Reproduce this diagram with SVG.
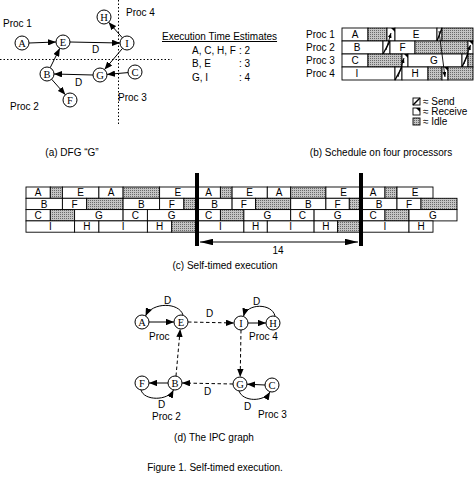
<svg xmlns="http://www.w3.org/2000/svg" width="474" height="478" viewBox="0 0 474 478">
<style>
.t{font-family:"Liberation Sans",Arial,sans-serif;font-size:10px;fill:#000}
.c{text-anchor:middle}
.nd circle{fill:#fff;stroke:#000;stroke-width:1}
.nd text{font-family:"Liberation Serif","Times New Roman",serif;font-size:10.5px;text-anchor:middle;fill:#000}
.e{stroke:#000;stroke-width:1;fill:none;marker-end:url(#ah)}
.dash{stroke-dasharray:3.5 2.5}
.dot{stroke:#000;stroke-width:1;stroke-dasharray:1.5 2;fill:none}
.cell{fill:#fff;stroke:#000;stroke-width:0.9}
.idle{fill:url(#stip);stroke:#000;stroke-width:0.9}
.cl{font-family:"Liberation Sans",Arial,sans-serif;font-size:10px;text-anchor:middle;fill:#000}
.snd{stroke:#000;stroke-width:1.4}
.bar{fill:#000}
</style>
<defs>
<pattern id="stip" width="2" height="2" patternUnits="userSpaceOnUse"><rect width="2" height="2" fill="#c4c4c4"/><rect width="1" height="1" fill="#6a6a6a"/></pattern>
<marker id="ah" viewBox="0 0 10 8" refX="10" refY="4" markerWidth="8" markerHeight="6.4" markerUnits="userSpaceOnUse" orient="auto"><path d="M0,0 L10,4 L0,8 z" fill="#000"/></marker>
<marker id="sm" viewBox="0 0 10 8" refX="10" refY="4" markerWidth="5" markerHeight="4" markerUnits="userSpaceOnUse" orient="auto"><path d="M0,0 L10,4 L0,8 z" fill="#000"/></marker>
<marker id="big" viewBox="0 0 12 6" refX="12" refY="3" markerWidth="13" markerHeight="6.5" markerUnits="userSpaceOnUse" orient="auto"><path d="M0,0 L12,3 L0,6 z" fill="#000"/></marker>
</defs>
<rect width="474" height="478" fill="#fff"/>

<!-- (a) DFG -->
<g id="a-partition">
<line class="dot" x1="0" y1="59.5" x2="172" y2="59.5"/>
<line class="dot" x1="118.5" y1="0" x2="118.5" y2="126"/>
<text class="t" x="3" y="27">Proc 1</text>
<text class="t" x="126" y="16">Proc 4</text>
<text class="t" x="118" y="101">Proc 3</text>
<text class="t" x="10" y="110">Proc 2</text>
</g>
<g id="a-edges">
<line class="e" x1="29" y1="43" x2="56" y2="42"/>
<line class="e" x1="70" y1="42" x2="120" y2="43"/>
<line class="e" x1="122.4" y1="37.8" x2="108.6" y2="22.2"/>
<line class="e" x1="122.5" y1="48.4" x2="104.5" y2="69.6"/>
<line class="e" x1="128" y1="72.6" x2="107" y2="74.4"/>
<line class="e" x1="93" y1="75" x2="54" y2="74"/>
<line class="e" x1="50.2" y1="67.7" x2="59.8" y2="48.3"/>
<line class="e" x1="51.6" y1="79.2" x2="65.4" y2="94.8"/>
<text class="t" x="92" y="53">D</text>
<text class="t" x="75" y="86">D</text>
</g>
<g id="a-A" class="nd"><circle cx="22" cy="43" r="7"/><text x="22" y="46.7">A</text></g>
<g id="a-E" class="nd"><circle cx="63" cy="42" r="7"/><text x="63" y="45.7">E</text></g>
<g id="a-I" class="nd"><circle cx="127" cy="43" r="7"/><text x="127" y="46.7">I</text></g>
<g id="a-H" class="nd"><circle cx="104" cy="17" r="7"/><text x="104" y="20.7">H</text></g>
<g id="a-G" class="nd"><circle cx="100" cy="75" r="7"/><text x="100" y="78.7">G</text></g>
<g id="a-C" class="nd"><circle cx="135" cy="72" r="7"/><text x="135" y="75.7">C</text></g>
<g id="a-B" class="nd"><circle cx="47" cy="74" r="7"/><text x="47" y="77.7">B</text></g>
<g id="a-F" class="nd"><circle cx="70" cy="100" r="7"/><text x="70" y="103.7">F</text></g>
<g id="a-estimates">
<text class="t" x="162" y="40" text-decoration="underline">Execution Time Estimates</text>
<text class="t" x="192" y="54">A, C, H, F</text><text class="t" x="239" y="54">: 2</text>
<text class="t" x="192" y="67">B, E</text><text class="t" x="239" y="67">: 3</text>
<text class="t" x="192" y="81">G, I</text><text class="t" x="239" y="81">: 4</text>
</g>
<text class="t c" x="72" y="156">(a) DFG “G”</text>

<!-- (b) schedule -->
<g id="b-schedule">
<text class="t" x="306" y="38">Proc 1</text>
<text class="t" x="306" y="51">Proc 2</text>
<text class="t" x="306" y="64">Proc 3</text>
<text class="t" x="306" y="77">Proc 4</text>
<rect class="cell" x="342" y="28" width="26" height="13"/><text class="cl" x="355" y="38">A</text>
<rect class="idle" x="368" y="28" width="19" height="13"/>
<rect class="cell" x="387" y="28" width="8" height="13"/><path d="M391,28 L395,28 L395,32 z" fill="#000"/>
<rect class="cell" x="395" y="28" width="42" height="13"/><text class="cl" x="416" y="38">E</text>
<rect class="cell" x="437" y="28" width="5" height="13"/><line class="snd" x1="437" y1="41" x2="442" y2="28"/>
<rect class="idle" x="442" y="28" width="31" height="13"/>
<rect class="cell" x="342" y="41" width="41" height="13"/><text class="cl" x="357" y="51">B</text>
<rect class="cell" x="383" y="41" width="7" height="13"/><line class="snd" x1="383" y1="54" x2="390" y2="41"/>
<rect class="cell" x="390" y="41" width="25" height="13"/><text class="cl" x="402.5" y="51">F</text>
<rect class="idle" x="415" y="41" width="53" height="13"/>
<rect class="cell" x="468" y="41" width="5" height="13"/><path d="M469,41 L473,41 L473,45 z" fill="#000"/>
<rect class="cell" x="342" y="54" width="26" height="13"/><text class="cl" x="355" y="64">C</text>
<rect class="idle" x="368" y="54" width="34" height="13"/>
<rect class="cell" x="402" y="54" width="6" height="13"/><path d="M404,54 L408,54 L408,58 z" fill="#000"/>
<rect class="cell" x="408" y="54" width="54" height="13"/><text class="cl" x="434" y="64">G</text>
<rect class="cell" x="462" y="54" width="6" height="13"/><line class="snd" x1="462" y1="67" x2="468" y2="54"/>
<rect class="idle" x="468" y="54" width="5" height="13"/>
<rect class="cell" x="342" y="67" width="53" height="13"/><text class="cl" x="357" y="77">I</text>
<rect class="cell" x="395" y="67" width="7" height="13"/><line class="snd" x1="395" y1="80" x2="402" y2="67"/>
<rect class="cell" x="402" y="67" width="26" height="13"/><text class="cl" x="415" y="77">H</text>
<rect class="idle" x="428" y="67" width="14" height="13"/>
<rect class="cell" x="442" y="67" width="6" height="13"/><path d="M444,67 L448,67 L448,71 z" fill="#000"/>
<rect class="idle" x="448" y="67" width="25" height="13"/>
</g>
<g id="b-messages">
<line stroke="#000" stroke-width="0.9" x1="386" y1="50" x2="391" y2="33" marker-end="url(#sm)"/>
<line stroke="#000" stroke-width="0.9" x1="439" y1="31" x2="445" y2="77" marker-end="url(#sm)"/>
<line stroke="#000" stroke-width="0.9" x1="398" y1="77" x2="404" y2="58" marker-end="url(#sm)"/>
<line stroke="#000" stroke-width="0.9" x1="464" y1="64" x2="470.5" y2="45" marker-end="url(#sm)"/>
</g>
<g id="b-legend">
<rect class="cell" x="413" y="98" width="7" height="7"/><line class="snd" x1="413" y1="105" x2="420" y2="98"/>
<text class="t" x="423" y="104.5" font-size="9.5">≈ Send</text>
<rect class="cell" x="413" y="108" width="7" height="7"/><path d="M416,108 L420,108 L420,112 z" fill="#000"/>
<text class="t" x="423" y="114.5" font-size="9.5">≈ Receive</text>
<rect class="idle" x="413" y="118" width="7" height="7"/>
<text class="t" x="423" y="124.5" font-size="9.5">≈ Idle</text>
</g>
<text class="t c" x="381" y="156">(b) Schedule on four processors</text>

<!-- (c) self-timed execution -->
<g id="c-exec">
<rect class="cell" x="26" y="187" width="24.3" height="11.3"/><text class="cl" x="38.2" y="196.3">A</text>
<rect class="idle" x="50.3" y="187" width="12.1" height="11.3"/>
<rect class="cell" x="62.4" y="187" width="36.5" height="11.3"/><text class="cl" x="80.6" y="196.3">E</text>
<rect class="cell" x="98.9" y="187" width="24.2" height="11.3"/><text class="cl" x="111" y="196.3">A</text>
<rect class="idle" x="123.1" y="187" width="36.5" height="11.3"/>
<rect class="cell" x="159.6" y="187" width="36.4" height="11.3"/><text class="cl" x="177.8" y="196.3">E</text>
<rect class="cell" x="26" y="198.3" width="36.4" height="11.3"/><text class="cl" x="44.2" y="207.6">B</text>
<rect class="cell" x="62.4" y="198.3" width="24.3" height="11.3"/><text class="cl" x="74.6" y="207.6">F</text>
<rect class="idle" x="86.7" y="198.3" width="36.4" height="11.3"/>
<rect class="cell" x="123.1" y="198.3" width="36.5" height="11.3"/><text class="cl" x="141.4" y="207.6">B</text>
<rect class="cell" x="159.6" y="198.3" width="24.3" height="11.3"/><text class="cl" x="171.8" y="207.6">F</text>
<rect class="idle" x="183.9" y="198.3" width="12.1" height="11.3"/>
<rect class="cell" x="26" y="209.6" width="24.3" height="11.3"/><text class="cl" x="38.2" y="218.9">C</text>
<rect class="idle" x="50.3" y="209.6" width="24.3" height="11.3"/>
<rect class="cell" x="74.6" y="209.6" width="48.5" height="11.3"/><text class="cl" x="98.9" y="218.9">G</text>
<rect class="cell" x="123.1" y="209.6" width="24.3" height="11.3"/><text class="cl" x="135.3" y="218.9">C</text>
<rect class="cell" x="147.4" y="209.6" width="48.6" height="11.3"/><text class="cl" x="171.7" y="218.9">G</text>
<rect class="cell" x="26" y="220.9" width="48.6" height="11.3"/><text class="cl" x="50.3" y="230.2">I</text>
<rect class="cell" x="74.6" y="220.9" width="24.3" height="11.3"/><text class="cl" x="86.8" y="230.2">H</text>
<rect class="cell" x="98.9" y="220.9" width="48.5" height="11.3"/><text class="cl" x="123.2" y="230.2">I</text>
<rect class="cell" x="147.4" y="220.9" width="24.3" height="11.3"/><text class="cl" x="159.6" y="230.2">H</text>
<rect class="idle" x="171.7" y="220.9" width="24.3" height="11.3"/>

<rect class="cell" x="197" y="187" width="23.4" height="11.3"/><text class="cl" x="208.7" y="196.3">A</text>
<rect class="idle" x="220.4" y="187" width="11.7" height="11.3"/>
<rect class="cell" x="232.1" y="187" width="35.2" height="11.3"/><text class="cl" x="249.7" y="196.3">E</text>
<rect class="cell" x="267.3" y="187" width="23.4" height="11.3"/><text class="cl" x="279" y="196.3">A</text>
<rect class="idle" x="290.7" y="187" width="35.2" height="11.3"/>
<rect class="cell" x="325.9" y="187" width="35.1" height="11.3"/><text class="cl" x="343.5" y="196.3">E</text>
<rect class="cell" x="197" y="198.3" width="35.1" height="11.3"/><text class="cl" x="214.6" y="207.6">B</text>
<rect class="cell" x="232.1" y="198.3" width="23.5" height="11.3"/><text class="cl" x="243.8" y="207.6">F</text>
<rect class="idle" x="255.6" y="198.3" width="35.1" height="11.3"/>
<rect class="cell" x="290.7" y="198.3" width="35.2" height="11.3"/><text class="cl" x="308.3" y="207.6">B</text>
<rect class="cell" x="325.9" y="198.3" width="23.4" height="11.3"/><text class="cl" x="337.6" y="207.6">F</text>
<rect class="idle" x="349.3" y="198.3" width="11.7" height="11.3"/>
<rect class="cell" x="197" y="209.6" width="23.4" height="11.3"/><text class="cl" x="208.7" y="218.9">C</text>
<rect class="idle" x="220.4" y="209.6" width="23.5" height="11.3"/>
<rect class="cell" x="243.9" y="209.6" width="46.8" height="11.3"/><text class="cl" x="267.3" y="218.9">G</text>
<rect class="cell" x="290.7" y="209.6" width="23.4" height="11.3"/><text class="cl" x="302.4" y="218.9">C</text>
<rect class="cell" x="314.1" y="209.6" width="46.9" height="11.3"/><text class="cl" x="337.6" y="218.9">G</text>
<rect class="cell" x="197" y="220.9" width="46.9" height="11.3"/><text class="cl" x="220.5" y="230.2">I</text>
<rect class="cell" x="243.9" y="220.9" width="23.4" height="11.3"/><text class="cl" x="255.6" y="230.2">H</text>
<rect class="cell" x="267.3" y="220.9" width="46.8" height="11.3"/><text class="cl" x="290.7" y="230.2">I</text>
<rect class="cell" x="314.1" y="220.9" width="23.5" height="11.3"/><text class="cl" x="325.8" y="230.2">H</text>
<rect class="idle" x="337.6" y="220.9" width="23.4" height="11.3"/>

<rect class="cell" x="361" y="187" width="24" height="11.3"/><text class="cl" x="373" y="196.3">A</text>
<rect class="idle" x="385" y="187" width="12" height="11.3"/>
<rect class="cell" x="397" y="187" width="36" height="11.3"/><text class="cl" x="415" y="196.3">E</text>
<rect class="cell" x="361" y="198.3" width="36" height="11.3"/><text class="cl" x="379" y="207.6">B</text>
<rect class="cell" x="397" y="198.3" width="24" height="11.3"/><text class="cl" x="409" y="207.6">F</text>
<rect class="idle" x="421" y="198.3" width="36" height="11.3"/>
<rect class="cell" x="361" y="209.6" width="24" height="11.3"/><text class="cl" x="373" y="218.9">C</text>
<rect class="idle" x="385" y="209.6" width="24" height="11.3"/>
<rect class="cell" x="409" y="209.6" width="48" height="11.3"/><text class="cl" x="433" y="218.9">G</text>
<rect class="cell" x="361" y="220.9" width="48" height="11.3"/><text class="cl" x="385" y="230.2">I</text>
<rect class="cell" x="409" y="220.9" width="24" height="11.3"/><text class="cl" x="421" y="230.2">H</text>
</g>
<g id="c-period">
<rect class="bar" x="195" y="173" width="4" height="73"/>
<rect class="bar" x="359" y="173" width="4" height="73"/>
<line x1="212" y1="242" x2="200" y2="242" stroke="#000" stroke-width="1" marker-end="url(#big)"/>
<line x1="205" y1="242" x2="358" y2="242" stroke="#000" stroke-width="1" marker-end="url(#big)"/>
<text class="t c" x="278" y="254">14</text>
</g>
<text class="t c" x="225" y="269" font-size="10.5">(c) Self-timed execution</text>

<!-- (d) IPC graph -->
<g id="d-edges">
<line class="e" x1="149" y1="322" x2="174" y2="322"/>
<path class="e" d="M183,315 C179,302 152,302 145.5,316"/>
<text class="t" x="164" y="304">D</text>
<line class="e dash" x1="188" y1="322" x2="234" y2="323"/>
<text class="t" x="206" y="317">D</text>
<line class="e" x1="248" y1="323" x2="266" y2="323"/>
<path class="e" d="M275,316 C272,303 247,303 243.5,316.3"/>
<text class="t" x="253" y="305">D</text>
<line class="e dash" x1="241" y1="330" x2="240.2" y2="377"/>
<line class="e" x1="265" y1="385" x2="247" y2="384.2"/>
<path class="e" d="M239,391 C243,402 264,402 270,392"/>
<text class="t" x="244" y="410">D</text>
<line class="e dash" x1="233" y1="384" x2="182" y2="383"/>
<text class="t" x="204" y="395">D</text>
<line class="e dash" x1="176" y1="376" x2="180.2" y2="329"/>
<line class="e" x1="168" y1="383" x2="149" y2="383"/>
<path class="e" d="M141,390 C144,401 168,401 173.5,390"/>
<text class="t" x="158" y="408">D</text>
</g>
<g id="d-A" class="nd"><circle cx="142" cy="322" r="7"/><text x="142" y="325.7">A</text></g>
<g id="d-E" class="nd"><circle cx="181" cy="322" r="7"/><text x="181" y="325.7">E</text></g>
<g id="d-I" class="nd"><circle cx="241" cy="323" r="7"/><text x="241" y="326.7">I</text></g>
<g id="d-H" class="nd"><circle cx="273" cy="323" r="7"/><text x="273" y="326.7">H</text></g>
<g id="d-F" class="nd"><circle cx="142" cy="383" r="7"/><text x="142" y="386.7">F</text></g>
<g id="d-B" class="nd"><circle cx="175" cy="383" r="7"/><text x="175" y="386.7">B</text></g>
<g id="d-G" class="nd"><circle cx="240" cy="384" r="7"/><text x="240" y="387.7">G</text></g>
<g id="d-C" class="nd"><circle cx="272" cy="385" r="7"/><text x="272" y="388.7">C</text></g>
<g id="d-labels">
<text class="t" x="149" y="340">Proc</text>
<text class="t" x="249" y="340">Proc 4</text>
<text class="t" x="152" y="420">Proc 2</text>
<text class="t" x="258" y="418">Proc 3</text>
</g>
<text class="t c" x="214" y="441" font-size="10.5">(d) The IPC graph</text>
<text class="t c" x="215" y="471" font-size="11.5">Figure 1. Self-timed execution.</text>
</svg>
